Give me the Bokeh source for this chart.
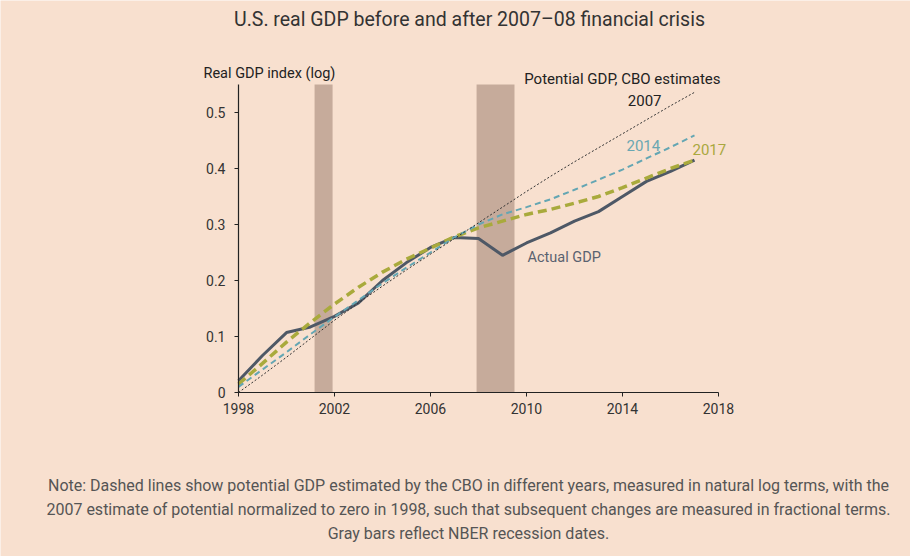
from bokeh.plotting import figure
from bokeh.models import Label, FixedTicker, Range1d
from bokeh.embed import file_html
from bokeh.resources import INLINE

years = list(range(1998, 2018))
actual = [0.021, 0.066, 0.107, 0.117, 0.136, 0.160, 0.200, 0.232, 0.259, 0.277,
          0.275, 0.245, 0.267, 0.285, 0.306, 0.323, 0.350, 0.377, 0.395, 0.415]
cbo_2007 = [0.000, 0.031, 0.063, 0.096, 0.129, 0.160, 0.190, 0.219, 0.247, 0.275,
            0.303, 0.331, 0.359, 0.386, 0.412, 0.437, 0.462, 0.487, 0.512, 0.536]
cbo_2014 = [0.010, 0.041, 0.072, 0.104, 0.135, 0.165, 0.195, 0.223, 0.250, 0.277,
            0.300, 0.318, 0.331, 0.345, 0.362, 0.380, 0.398, 0.418, 0.438, 0.459]
cbo_2017 = [0.015, 0.052, 0.090, 0.125, 0.158, 0.188, 0.215, 0.238, 0.258, 0.278,
            0.294, 0.306, 0.318, 0.327, 0.338, 0.350, 0.366, 0.383, 0.400, 0.415]
rec_start = [2001.17, 2007.92]
rec_end = [2001.92, 2009.5]
x_ticks = [1998, 2002, 2006, 2010, 2014, 2018]
y_ticks = [0, 0.1, 0.2, 0.3, 0.4, 0.5]
y_labels = ["0", "0.1", "0.2", "0.3", "0.4", "0.5"]

BG = "#f8e0cf"
FONT = "Roboto"
W, H = 910, 556
# plot region inside the canvas (pixels)
PL, PR, PT, PB = 238, 718, 84, 392
X0, X1 = 1998, 2018
Y0, Y1 = 0.0, 0.55
xs = (PR - PL) / (X1 - X0)
ys = (PB - PT) / (Y1 - Y0)

p = figure(width=W, height=H, output_backend="svg", toolbar_location=None,
           x_range=Range1d(X0 - PL / xs, X0 + (W - PL) / xs),
           y_range=Range1d(Y0 - (H - PB) / ys, Y1 + PT / ys),
           min_border=0)
p.background_fill_color = BG
p.border_fill_color = BG
p.outline_line_color = None
p.grid.grid_line_color = None

p.quad(left=rec_start, right=rec_end, bottom=Y0, top=Y1, fill_color="#c6ab9b",
       line_color=None)

p.line(years, actual, line_color="#4e5866", line_width=3)
p.line(years, cbo_2017, line_color="#a9aa3c", line_width=3.5, line_dash="9 5")
p.line(years, cbo_2014, line_color="#64a6b3", line_width=2, line_dash="6 4")
p.line(years, cbo_2007, line_color="#333333", line_width=1, line_dash="2 2")

for ax in (p.xaxis[0], p.yaxis[0]):
    ax.axis_line_color = "#222222"
    ax.axis_line_width = 1.2
    ax.major_tick_line_color = "#222222"
    ax.major_tick_in = 0
    ax.major_tick_out = 4
    ax.minor_tick_line_color = None
    ax.major_label_text_font = FONT
    ax.major_label_text_font_size = "14px"
    ax.major_label_text_color = "#333333"

p.xaxis.ticker = FixedTicker(ticks=x_ticks)
p.yaxis.ticker = FixedTicker(ticks=y_ticks)
p.xaxis.bounds = (X0, X1)
p.yaxis.bounds = (Y0, Y1)
p.xaxis.fixed_location = Y0
p.yaxis.fixed_location = X0
p.yaxis.major_label_overrides = {t: l for t, l in zip(y_ticks, y_labels)}
p.xaxis.major_label_standoff = 6
p.yaxis.major_label_standoff = 9


def lab(text, cx, cy, size, color, align="left", baseline="middle"):
    p.add_layout(Label(x=cx, y=H - cy, x_units="screen", y_units="screen",
                       text=text, text_font=FONT, text_font_size=size,
                       text_color=color, text_align=align, text_baseline=baseline))


lab("U.S. real GDP before and after 2007\u201308 financial crisis", 469, 19, "19.5px", "#333333", "center")
lab("Real GDP index (log)", 203, 73, "14.5px", "#222222")
lab("Potential GDP, CBO estimates", 720, 78, "15px", "#222222", "right")
lab("2007", 661, 100, "15px", "#222222", "right")
lab("2014", 626, 145, "15px", "#6aa7b2")
lab("2017", 692, 149, "15px", "#a9a83f")
lab("Actual GDP", 527, 257, "14.5px", "#5a6270")

notes = ["Note: Dashed lines show potential GDP estimated by the CBO in different years, measured in natural log terms, with the",
         "2007 estimate of potential normalized to zero in 1998, such that subsequent changes are measured in fractional terms.",
         "Gray bars reflect NBER recession dates."]
for i, n in enumerate(notes):
    lab(n, 468, 485 + 24 * i, "16px", "#555555", "center")

open("out.html", "w").write(file_html(p, INLINE))
